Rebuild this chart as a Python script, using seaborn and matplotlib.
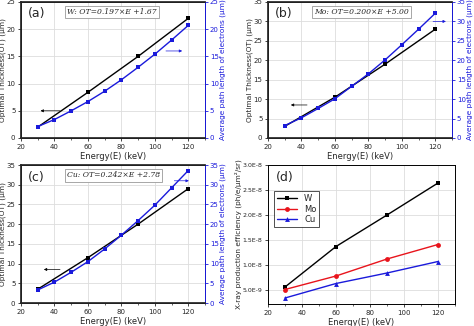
import numpy as np
import pandas as pd
import matplotlib
matplotlib.use("Agg")
import matplotlib.pyplot as plt
import seaborn as sns
from matplotlib.ticker import FuncFormatter, MultipleLocator

sns.set_theme(style="white")
plt.rcParams['font.family'] = ['DejaVu Sans']

# ---- data ----
E_ot = [30, 60, 90, 120]
E_pl = [30, 40, 50, 60, 70, 80, 90, 100, 110, 120]

W_ot = [2.0, 8.4, 15.0, 22.0]
W_pl = [2.1, 3.4, 5.0, 6.7, 8.6, 10.7, 13.0, 15.4, 18.0, 20.7]
Mo_ot = [3.0, 10.5, 19.0, 28.0]
Mo_pl = [3.2, 5.2, 7.6, 10.1, 13.3, 16.5, 20.1, 24.0, 28.0, 32.1]
Cu_ot = [3.5, 11.5, 20.0, 29.0]
Cu_pl = [3.3, 5.3, 7.8, 10.5, 13.7, 17.2, 20.9, 24.8, 29.2, 33.6]

E_eff = [30, 60, 90, 120]
W_eff = [5.6e-9, 1.37e-8, 2.0e-8, 2.64e-8]
Mo_eff = [5.1e-9, 7.8e-9, 1.12e-8, 1.41e-8]
Cu_eff = [3.4e-9, 6.3e-9, 8.4e-9, 1.07e-8]

panel_labels = ["(a)", "(b)", "(c)", "(d)"]
formulas = ["W: OT=0.197×E +1.67", "Mo: OT=0.200×E +5.00", "Cu: OT=0.242×E +2.78"]
ymax = [25, 35, 35]

W, H = 474, 326
fig = plt.figure(figsize=(W / 100, H / 100), dpi=100)

def ax_rect(l, r, t, b):
    return [l / W, 1 - b / H, (r - l) / W, (b - t) / H]

rects = [ax_rect(21, 205, 2, 138), ax_rect(268, 452, 2, 138),
         ax_rect(21, 205, 165, 303), ax_rect(268, 455, 165, 304)]

BLUE = "#1a1adb"
fs_tick = 5
fs_lab = 5.3

def style_x(ax):
    ax.set_xlim(20, 130)
    ax.xaxis.set_major_locator(MultipleLocator(20))
    ax.xaxis.set_minor_locator(MultipleLocator(10))
    ax.tick_params(axis="x", which="major", labelsize=fs_tick, length=2.5, width=0.6, pad=1.5, direction="out", bottom=True)
    ax.tick_params(axis="x", which="minor", length=1.5, width=0.5, direction="out", bottom=True)
    ax.set_xlabel("Energy(E) (keV)", fontsize=6, labelpad=1.5)
    ax.grid(True, which="major", color="#dddddd", lw=0.6)
    for s in ax.spines.values():
        s.set_linewidth(0.7)
        s.set_color("black")

ot_sets = [W_ot, Mo_ot, Cu_ot]
pl_sets = [W_pl, Mo_pl, Cu_pl]
arrows = [
    ((45, 5.0), (30, 5.0), (105, 16.0), (118, 16.0)),
    ((45, 8.5), (32, 8.5), (117, 30.0), (128, 30.0)),
    ((45, 8.5), (32, 8.5), (110, 31.0), (122, 31.0)),
]

for i in range(3):
    ax = fig.add_axes(rects[i])
    df1 = pd.DataFrame({"E": E_ot, "v": ot_sets[i]})
    sns.lineplot(data=df1, x="E", y="v", ax=ax, color="black", marker="s",
                 markersize=3.5, markeredgewidth=0, lw=1.0)
    ax.set_ylim(0, ymax[i])
    ax.yaxis.set_major_locator(MultipleLocator(5))
    ax.tick_params(axis="y", labelsize=fs_tick, length=2.5, width=0.6, pad=1.5, direction="out", left=True)
    ax.set_ylabel("Optimal Thickness(OT) (μm)", fontsize=fs_lab, labelpad=0.5)
    style_x(ax)
    ax2 = ax.twinx()
    df2 = pd.DataFrame({"E": E_pl, "v": pl_sets[i]})
    sns.lineplot(data=df2, x="E", y="v", ax=ax2, color=BLUE, marker="s",
                 markersize=3.5, markeredgewidth=0, lw=1.0)
    ax2.set_ylim(0, ymax[i])
    ax2.yaxis.set_major_locator(MultipleLocator(5))
    ax2.tick_params(axis="y", labelsize=fs_tick, length=2.5, width=0.6, pad=1.0,
                    direction="out", right=True, colors=BLUE)
    ax2.set_ylabel("Average path length of electrons (μm)", fontsize=fs_lab, color=BLUE, labelpad=0.2)
    ax2.spines["right"].set_color(BLUE)
    ax2.spines["right"].set_linewidth(0.7)
    a1s, a1e, a2s, a2e = arrows[i]
    ax.annotate("", xy=a1e, xytext=a1s, arrowprops=dict(arrowstyle="-|>", color="black", lw=0.5, mutation_scale=4))
    ax2.annotate("", xy=a2e, xytext=a2s, arrowprops=dict(arrowstyle="-|>", color=BLUE, lw=0.5, mutation_scale=4))
    ax.text(0.04, 0.96, panel_labels[i], transform=ax.transAxes, fontsize=9, va="top", ha="left")
    ax.text(0.25, 0.955, formulas[i], transform=ax.transAxes, fontsize=5.5, va="top", ha="left",
            family="DejaVu Serif", style="italic",
            bbox=dict(boxstyle="square,pad=0.3", fc="white", ec="#999999", lw=0.6))

# panel d
ax = fig.add_axes(rects[3])
df = pd.DataFrame({
    "E": E_eff * 3,
    "v": W_eff + Mo_eff + Cu_eff,
    "el": ["W"] * 4 + ["Mo"] * 4 + ["Cu"] * 4,
})
sns.lineplot(data=df, x="E", y="v", hue="el", style="el", ax=ax,
             palette={"W": "black", "Mo": "#e8141c", "Cu": "#1a1adb"},
             markers={"W": "s", "Mo": "o", "Cu": "^"}, dashes=False,
             markersize=3.5, markeredgewidth=0, lw=1.0)
ax.set_ylim(2.2e-9, 3.0e-8)
ax.yaxis.set_major_locator(MultipleLocator(5e-9))
def fmt(v, pos):
    if v <= 0:
        return ""
    s = "%.1E" % v
    m, e = s.split("E")
    return "%sE%d" % (m, int(e))
ax.yaxis.set_major_formatter(FuncFormatter(fmt))
ax.tick_params(axis="y", labelsize=4.5, length=2.5, width=0.6, pad=1.5, direction="out", left=True)
ax.set_ylabel("X-ray production efficiency (ph/e/μm²/sr)", fontsize=fs_lab, labelpad=0.5)
style_x(ax)
ax.text(0.04, 0.96, panel_labels[3], transform=ax.transAxes, fontsize=9, va="top", ha="left")
leg = ax.legend(loc="upper left", bbox_to_anchor=(0.01, 0.84), fontsize=6, frameon=True,
                fancybox=False, edgecolor="black", handlelength=2.5, borderpad=0.3,
                labelspacing=0.2, title=None)
leg.get_frame().set_linewidth(0.6)

fig.savefig("out.png", dpi=100)
